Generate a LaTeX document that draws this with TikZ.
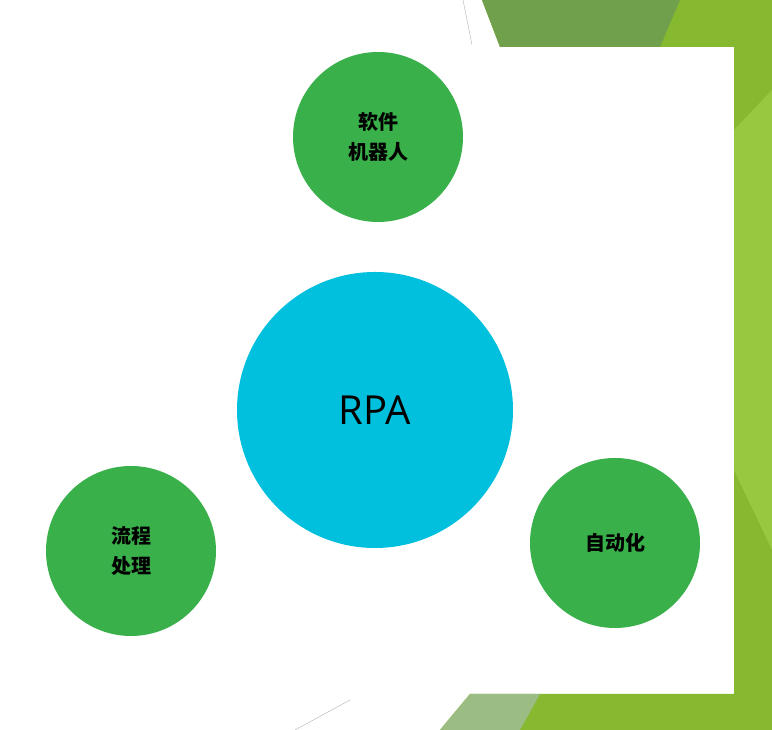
\documentclass[tikz,border=0pt]{standalone}
\usepackage{fontspec}
\setmainfont{Open Sans}
\newfontfamily\cjk{Noto Sans CJK SC}
\usetikzlibrary{calc}
\definecolor{sgreen}{RGB}{57,176,74}
\definecolor{scyan}{RGB}{0,192,222}
\definecolor{bgA}{RGB}{112,160,76}
\definecolor{bgB}{RGB}{134,184,48}
\definecolor{bgC}{RGB}{152,200,64}
\begin{document}
\begin{tikzpicture}[x=1pt,y=1pt,
  sat/.style={circle,fill=sgreen,minimum size=170pt,inner sep=0pt,align=center,font=\cjk\bfseries\fontsize{20}{30}\selectfont},
  ring/.style={sgreen,densely dotted,line width=1pt},
  spoke/.style={scyan,densely dotted,line width=1.2pt},
  tri/.style={fill=sgreen}]
\useasboundingbox (0,0) rectangle (772,730);
\fill[white] (0,0) rectangle (772,730);
% background
\fill[bgB] (482,730) -- (772,730) -- (772,0) -- (440,0) -- (470,36) -- (734,36) -- (734,683) -- (500,683) -- cycle;
\fill[bgA] (482,730) -- (680,730) -- (660,683) -- (500,683) -- cycle;
\fill[bgC] (734,600) -- (772,640) -- (772,180) -- (734,260) -- cycle;
\fill[bgA!70!white] (440,0) -- (520,0) -- (540,36) -- (470,36) -- cycle;
\draw[gray!60] (463,730) -- (472,685);
\draw[gray!60] (295,0) -- (350,30);
\coordinate (C) at (378,320);
\node[circle,fill=scyan,minimum size=276pt,inner sep=0pt,font=\fontsize{40}{40}\selectfont] (rpa) at (375,320) {RPA};
\node[sat] (top) at (378,593) {软件\\机器人};
\node[sat] (left) at (131,179) {流程\\处理};
\node[sat] (right) at (615,187) {自动化};
\begin{scope}[on background layer/.try]
\end{scope}
\end{tikzpicture}
\end{document}
